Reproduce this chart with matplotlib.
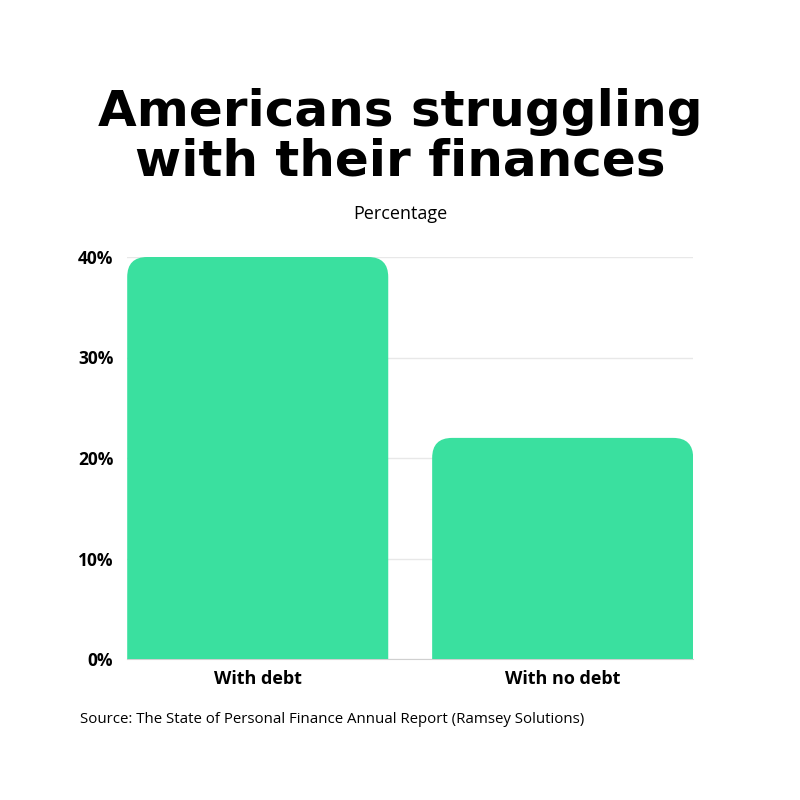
import matplotlib.pyplot as plt
from matplotlib.patches import FancyBboxPatch

# data
categories = ["With debt", "With no debt"]
values = [40, 22]
yticks = [0, 10, 20, 30, 40]
ytick_labels = ["0%", "10%", "20%", "30%", "40%"]

bar_color = "#3ae09f"
grid_color = "#e8e8e8"

fig = plt.figure(figsize=(8, 8), dpi=100)
fig.patch.set_facecolor("white")
ax = fig.add_axes([0.159, 0.17625, 0.7075, 0.5025])

width = 0.856
ax.set_xlim(-0.428, 1.428)
ax.set_ylim(0, 40)

# px per unit: x 305, y ~10.05 -> rounded top corners of ~20px
rx = 20 / 305
aspect = (20 / 10.05) / rx
for i, v in enumerate(values):
    box = FancyBboxPatch((i - width / 2, -3), width, v + 3,
                         boxstyle="round,pad=0,rounding_size=%f" % rx,
                         mutation_aspect=aspect,
                         facecolor=bar_color, edgecolor="none",
                         zorder=3, clip_on=True)
    ax.add_patch(box)

ax.set_yticks(yticks)
ax.set_yticklabels(ytick_labels, fontsize=12.5, fontweight="bold", family="Open Sans")
ax.set_xticks(range(len(categories)))
ax.set_xticklabels(categories, fontsize=13, fontweight="bold", family="Open Sans")
ax.tick_params(axis="y", length=0, pad=10)
ax.tick_params(axis="x", length=0, pad=8)
ax.grid(axis="y", color=grid_color, linewidth=1, zorder=0)
for s in ["top", "right", "left"]:
    ax.spines[s].set_visible(False)
ax.spines["bottom"].set_color("#d0d0d0")
ax.spines["bottom"].set_zorder(1)

fig.text(0.5, 0.86, "Americans struggling", ha="center", va="center",
         fontsize=36, fontweight="bold", family="DejaVu Sans")
fig.text(0.5, 0.798, "with their finances", ha="center", va="center",
         fontsize=36, fontweight="bold", family="DejaVu Sans")
fig.text(0.5, 0.733, "Percentage", ha="center", va="center",
         fontsize=13, family="Open Sans")
fig.text(0.1, 0.101, "Source: The State of Personal Finance Annual Report (Ramsey Solutions)",
         ha="left", va="center", fontsize=10.8, family="Open Sans")

fig.savefig("out.png", dpi=100, facecolor="white")
